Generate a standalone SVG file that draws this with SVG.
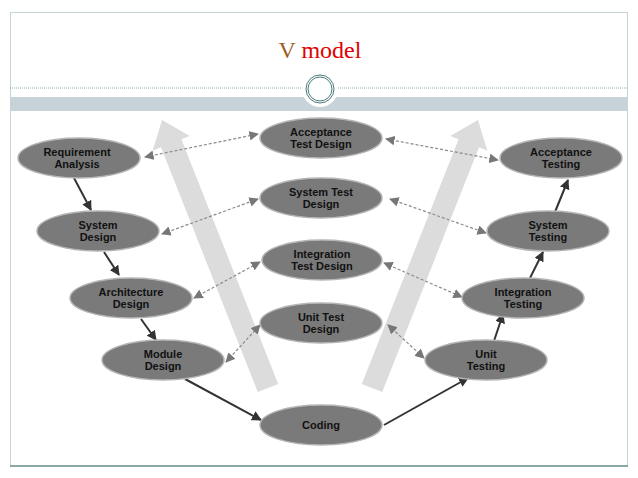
<svg xmlns="http://www.w3.org/2000/svg" width="638" height="478" viewBox="0 0 638 478">
<style>
.n{fill:#7a7a7a;stroke:#b5b5b5;stroke-width:1.5}
.t{font-family:"Liberation Sans",Arial,sans-serif;font-size:11px;font-weight:bold;fill:#111;text-anchor:middle}
.s{stroke:#333;stroke-width:2;fill:none;marker-end:url(#a)}
.d{stroke:#8a8a8a;stroke-width:1.2;stroke-dasharray:3,2;fill:none;marker-start:url(#g);marker-end:url(#g)}
</style>
<defs>
<marker id="a" viewBox="0 0 10 10" refX="9" refY="5" markerWidth="5" markerHeight="5" orient="auto"><path d="M0,0L10,5L0,10z" fill="#333"/></marker>
<marker id="g" viewBox="0 0 10 10" refX="9" refY="5" markerWidth="8" markerHeight="8" orient="auto-start-reverse"><path d="M0,0L10,5L0,10z" fill="#777"/></marker>
</defs>
<rect width="638" height="478" fill="#fff"/>
<rect x="10.5" y="12.5" width="617" height="454" fill="#fff" stroke="#c5d4d4"/>
<line x1="10" y1="466" x2="628" y2="466" stroke="#8aa8a8" stroke-width="2"/>
<text x="320" y="58" font-family="Liberation Serif,serif" font-size="24" text-anchor="middle"><tspan fill="#9c5f1f">V</tspan><tspan fill="#e00000"> model</tspan></text>
<line x1="10" y1="88" x2="628" y2="88" stroke="#8fb0b0" stroke-dasharray="1,1"/>
<rect x="10" y="97" width="618" height="14" fill="#c8d3d9"/>
<circle cx="320" cy="89" r="18" fill="#fff"/>
<circle cx="320" cy="89" r="14" fill="none" stroke="#4c7a7a" stroke-width="1"/>
<circle cx="320" cy="89" r="12" fill="none" stroke="#4c7a7a" stroke-width="1"/>
<g id="bigarrows" fill="#dcdcdc">
<path d="M257.8,392 L161,147.3 L152.6,150.7 L162,120 L189.8,135.9 L181.4,139.3 L278.2,384 Z"/>
<path d="M382.2,392 L479,147.3 L487.4,150.7 L478,120 L450.2,135.9 L458.6,139.3 L361.8,384 Z"/>
</g>
<g id="connectors">
<line class="s" x1="74" y1="178" x2="91" y2="210"/>
<line class="s" x1="104" y1="252" x2="119" y2="275"/>
<line class="s" x1="141" y1="319" x2="156" y2="340"/>
<line class="s" x1="185" y1="379" x2="261" y2="420"/>
<line class="s" x1="384" y1="425" x2="468" y2="378"/>
<line class="s" x1="494" y1="341" x2="503" y2="314"/>
<line class="s" x1="530" y1="278" x2="543" y2="252"/>
<line class="s" x1="555" y1="212" x2="568" y2="180"/>
<line class="d" x1="145" y1="157" x2="258" y2="134"/>
<line class="d" x1="386" y1="139" x2="498" y2="160"/>
<line class="d" x1="162" y1="234" x2="258" y2="199"/>
<line class="d" x1="390" y1="199" x2="486" y2="233"/>
<line class="d" x1="194" y1="298" x2="260" y2="262"/>
<line class="d" x1="384" y1="263" x2="462" y2="297"/>
<line class="d" x1="226" y1="362" x2="260" y2="325"/>
<line class="d" x1="388" y1="325" x2="424" y2="358"/>
</g>
<g id="req"><ellipse class="n" cx="79" cy="158" rx="61" ry="20"/><text class="t" x="77" y="156">Requirement</text><text class="t" x="77" y="168">Analysis</text></g>
<g id="atd"><ellipse class="n" cx="321" cy="138" rx="61" ry="20"/><text class="t" x="321" y="136">Acceptance</text><text class="t" x="321" y="148">Test Design</text></g>
<g id="at"><ellipse class="n" cx="561" cy="158" rx="61" ry="20"/><text class="t" x="561" y="156">Acceptance</text><text class="t" x="561" y="168">Testing</text></g>
<g id="std"><ellipse class="n" cx="321" cy="198" rx="61" ry="20"/><text class="t" x="321" y="196">System Test</text><text class="t" x="321" y="208">Design</text></g>
<g id="sd"><ellipse class="n" cx="98" cy="231" rx="61" ry="20"/><text class="t" x="98" y="229">System</text><text class="t" x="98" y="241">Design</text></g>
<g id="st"><ellipse class="n" cx="548" cy="231" rx="61" ry="20"/><text class="t" x="548" y="229">System</text><text class="t" x="548" y="241">Testing</text></g>
<g id="itd"><ellipse class="n" cx="322" cy="260" rx="60" ry="20"/><text class="t" x="322" y="258">Integration</text><text class="t" x="322" y="270">Test Design</text></g>
<g id="ad"><ellipse class="n" cx="131" cy="298" rx="61" ry="20"/><text class="t" x="131" y="296">Architecture</text><text class="t" x="131" y="308">Design</text></g>
<g id="it"><ellipse class="n" cx="523" cy="298" rx="61" ry="20"/><text class="t" x="523" y="296">Integration</text><text class="t" x="523" y="308">Testing</text></g>
<g id="utd"><ellipse class="n" cx="321" cy="323" rx="61" ry="20"/><text class="t" x="321" y="321">Unit Test</text><text class="t" x="321" y="333">Design</text></g>
<g id="md"><ellipse class="n" cx="163" cy="360" rx="61" ry="20"/><text class="t" x="163" y="358">Module</text><text class="t" x="163" y="370">Design</text></g>
<g id="ut"><ellipse class="n" cx="486" cy="360" rx="61" ry="20"/><text class="t" x="486" y="358">Unit</text><text class="t" x="486" y="370">Testing</text></g>
<g id="coding"><ellipse class="n" cx="321" cy="425" rx="61" ry="20"/><text class="t" x="321" y="429">Coding</text></g>
</svg>
